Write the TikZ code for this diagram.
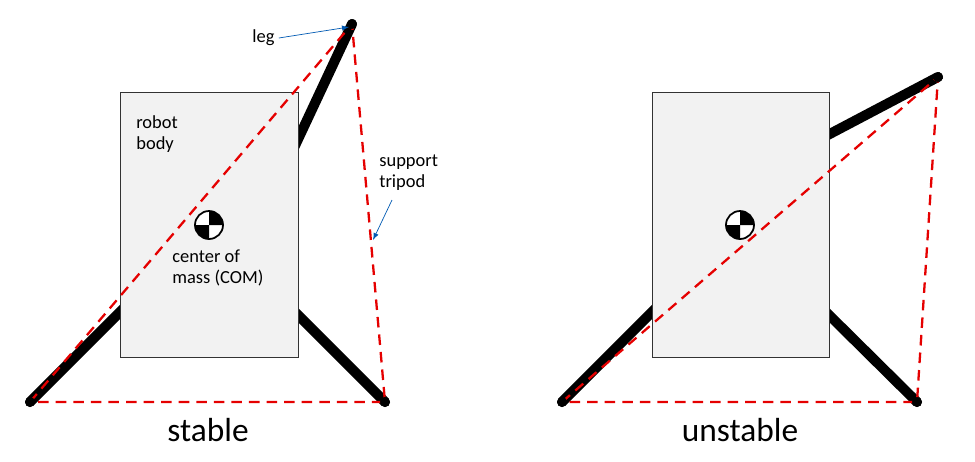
\documentclass[tikz,border=0pt]{standalone}
\usepackage{fontspec}
\setmainfont{Carlito}
\begin{document}
\begin{tikzpicture}[x=0.02cm,y=-0.02cm,
  legline/.style={line width=0.2cm,line cap=round},
  body/.style={draw=black!80,fill=black!5,line width=0.5pt},
  tri/.style={draw=red!90!black,dashed,line width=1.3pt,dash pattern=on 6pt off 4pt},
  lbl/.style={font=\fontsize{10.5}{12}\selectfont,align=left,inner sep=0},
  big/.style={font=\fontsize{19}{22}\selectfont},
  ptr/.style={draw=blue!50!cyan!70!black,-latex,line width=0.4pt}]
\useasboundingbox (0,0) rectangle (975,461);
\newcommand\com[2]{%
  \fill[white] (#1,#2) circle (14);
  \fill (#1,#2) -- ++(-14,0) arc[start angle=180,end angle=90,radius=14] -- cycle;
  \fill (#1,#2) -- ++(14,0) arc[start angle=0,end angle=-90,radius=14] -- cycle;
  \draw[line width=1pt] (#1,#2) circle (14);}
% left
\coordinate (a1) at (30,402); \coordinate (a2) at (352,24); \coordinate (a3) at (385,402);
\draw[legline] (a1) -- (125,307);
\draw[legline] (a3) -- (293,310);
\draw[legline] (a2) -- (293,150);
\node[body,minimum width=178*0.02cm,minimum height=265*0.02cm,anchor=north west] (b1) at (120,92) {};
\draw[tri] (a1) -- (a2) -- (a3) -- cycle;
\fill (a1) circle (5); \fill (a3) circle (5); \fill (a2) circle (5);
\com{209}{225}
\node[lbl,anchor=north west] (rb) at (136,115) {robot\\body};
\node[lbl,anchor=north west] (cm) at (172,249) {center of\\mass (COM)};
\node[lbl,anchor=west] (leg) at (252,38) {leg};
\node[lbl,anchor=north west] (st) at (379,154) {support\\tripod};
\coordinate (p1) at (349,27); \coordinate (p2) at (373,240);
\draw[ptr] (leg.east)+(4,0) -- (p1);
\draw[ptr] (392,200) -- (p2);
\node[big] (s1) at (208,430) {stable};
% right
\coordinate (c1) at (562,402); \coordinate (c2) at (938,77); \coordinate (c3) at (917,402);
\draw[legline] (c1) -- (657,307);
\draw[legline] (c3) -- (824,310);
\draw[legline] (c2) -- (824,137);
\node[body,minimum width=177*0.02cm,minimum height=265*0.02cm,anchor=north west] (b2) at (652,92) {};
\draw[tri] (c1) -- (c2) -- (c3) -- cycle;
\fill (c1) circle (5); \fill (c3) circle (5); \fill (c2) circle (5);
\com{740}{225}
\node[big] (s2) at (740,430) {unstable};
\end{tikzpicture}
\end{document}
